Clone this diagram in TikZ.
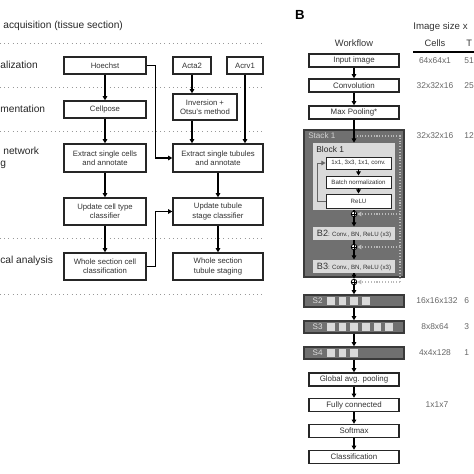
\documentclass[tikz,border=0pt]{standalone}
\usepackage{fontspec}
\setmainfont{Liberation Sans}
\usetikzlibrary{arrows.meta,positioning}

\newlength\pxu
\setlength\pxu{0.02cm}
\definecolor{stackgray}{RGB}{112,112,112}
\definecolor{stackedge}{RGB}{58,58,58}
\definecolor{blockgray}{RGB}{218,218,218}
\definecolor{txtgray}{RGB}{50,50,50}

\tikzset{
  box/.style={draw=black!85, line width=0.8pt, fill=white, align=center, inner sep=0pt,
    text=txtgray, font=\fontsize{4.4}{5.3}\selectfont},
  wbox/.style={box, minimum width=90\pxu, minimum height=13\pxu, font=\fontsize{4.5}{5}\selectfont},
  ibox/.style={box, line width=0.5pt, minimum width=65\pxu, font=\fontsize{3.5}{4}\selectfont},
  sbar/.style={draw=stackedge, line width=0.8pt, fill=stackgray, minimum width=100\pxu,
    minimum height=12\pxu, inner sep=0pt},
  sq/.style={fill=blockgray, draw=none},
  plusnode/.style={circle, draw=black, fill=white, line width=0.5pt, inner sep=0pt,
    minimum size=5.5\pxu, path picture={
      \draw[line width=0.45pt] ([xshift=-1.6pt]path picture bounding box.center) -- ([xshift=1.6pt]path picture bounding box.center);
      \draw[line width=0.45pt] ([yshift=-1.6pt]path picture bounding box.center) -- ([yshift=1.6pt]path picture bounding box.center);}},
  sep/.style={dotted, gray!80, line width=0.4pt},
  skipline/.style={densely dotted, gray!55, line width=0.6pt},
  lbl/.style={anchor=west, inner sep=0pt, align=left, text=black!85, font=\fontsize{5.8}{6.6}\selectfont},
  val/.style={inner sep=0pt, text=black!60, font=\fontsize{4.8}{5.5}\selectfont}
}

\begin{document}
\begin{tikzpicture}[x=1\pxu, y=-1\pxu, >={Triangle[length=2.4pt,width=2.6pt]}]
\useasboundingbox (0,0) rectangle (474,474);

% panel A: labels and separators
\node[lbl] (lacq) at (3,26) {acquisition (tissue section)};
\node[lbl] (lvis) at (0,65) {alization};
\node[lbl] (lseg) at (0,109) {mentation};
\node[lbl] (lnet) at (0,158) {\hspace*{3\pxu}network\\g};
\node[lbl] (lana) at (0,261) {cal analysis};
\foreach \y in {43,87,131,238,294}
  \draw[sep] (0,\y) -- (265,\y);

% panel A: boxes
\node[box, minimum width=82\pxu, minimum height=17\pxu] (hoechst) at (105,65.5) {Hoechst};
\node[box, minimum width=38\pxu, minimum height=17\pxu] (acta) at (192,65.5) {Acta2};
\node[box, minimum width=36\pxu, minimum height=17\pxu] (acrv) at (245,65.5) {Acrv1};
\node[box, minimum width=82\pxu, minimum height=17\pxu] (cellpose) at (105,109.5) {Cellpose};
\node[box, minimum width=64\pxu, minimum height=26\pxu] (otsu) at (205,107) {Inversion +\\Otsu's method};
\node[box, minimum width=82\pxu, minimum height=28\pxu] (cells) at (105,158) {Extract single cells\\and annotate};
\node[box, minimum width=90\pxu, minimum height=28\pxu] (tubules) at (218,158) {Extract single tubules\\and annotate};
\node[box, minimum width=82\pxu, minimum height=27\pxu] (updcell) at (105,211.5) {Update cell type\\classifier};
\node[box, minimum width=90\pxu, minimum height=27\pxu] (updtub) at (218,211.5) {Update tubule\\stage classifier};
\node[box, minimum width=82\pxu, minimum height=27\pxu] (wholecell) at (105,266.5) {Whole section cell\\classification};
\node[box, minimum width=90\pxu, minimum height=27\pxu] (wholetub) at (218,266.5) {Whole section\\tubule staging};

\draw[->, line width=0.7pt] (hoechst) -- (cellpose);
\draw[->, line width=0.7pt] (cellpose) -- (cells);
\draw[->, line width=0.7pt] (acta) -- (acta |- otsu.north);
\draw[->, line width=0.7pt] (otsu.south -| acta) -- (tubules.north -| acta);
\draw[->, line width=0.7pt] (acrv) -- (acrv |- tubules.north);
\draw[->, line width=0.7pt] (hoechst.east) -- ++(9,0) |- (tubules.west);
\draw[->, line width=0.7pt] (cells) -- (updcell);
\draw[->, line width=0.7pt] (tubules) -- (updtub);
\draw[->, line width=0.7pt] (updcell) -- (wholecell);
\draw[->, line width=0.7pt] (updtub) -- (wholetub);
\draw[->, line width=0.7pt] (wholecell.east) -- ++(9,0) |- (updtub.west);

% panel B: headers
\node[inner sep=0pt, font=\fontsize{7.5}{8}\selectfont\bfseries] (bname) at (300,15) {B};
\node[inner sep=0pt, text=black!80, font=\fontsize{5.3}{6}\selectfont] (wflow) at (354,43) {Workflow};
\node[inner sep=0pt, anchor=west, text=black!80, font=\fontsize{5.5}{6}\selectfont] (isize) at (413,27) {Image size x};
\node[inner sep=0pt, text=black!80, font=\fontsize{5.3}{6}\selectfont] (hcells) at (435,43) {Cells};
\node[inner sep=0pt, anchor=west, text=black!80, font=\fontsize{5.3}{6}\selectfont] (htub) at (466,43) {T};
\draw[line width=0.6pt] (413,52) coordinate (hl) -- (474,52) coordinate (hr);

% panel B: workflow
\node[wbox] (input) at (354,60.5) {Input image};
\node[wbox] (conv) at (354,85.5) {Convolution};
\node[wbox] (maxpool) at (354,112.5) {Max Pooling*};

\node[draw=stackedge, line width=0.9pt, fill=stackgray, minimum width=100\pxu, minimum height=147\pxu, inner sep=0pt] (stack) at (354,203.5) {};
\node[anchor=north west, inner sep=0pt, text=gray!35, font=\fontsize{4.6}{5}\selectfont] (stacklbl) at (308,132) {Stack 1};
\node[fill=blockgray, minimum width=82\pxu, minimum height=67\pxu, inner sep=0pt] (block1) at (354,176.5) {};
\node[anchor=north west, inner sep=0pt, text=black!85, font=\fontsize{4.8}{5}\selectfont] (blocklbl) at (316,146) {Block 1};
\node[ibox, minimum height=12\pxu] (conv1) at (358.5,163) {1x1, 3x3, 1x1, conv.};
\node[ibox, minimum height=12\pxu] (bn) at (358.5,182) {Batch normalization};
\node[ibox, minimum height=14\pxu] (relu) at (358.5,201) {ReLU};

\node[plusnode] (plus1) at (354,214) {};
\node[box, line width=0.5pt, fill=blockgray, draw=none, minimum width=82\pxu, minimum height=13\pxu, font=\fontsize{3.5}{4}\selectfont] (b2) at (354,233.5) {{\fontsize{5.2}{5}\selectfont B2}: Conv., BN, ReLU (x3)};
\node[plusnode] (plus2) at (354,247) {};
\node[box, line width=0.5pt, fill=blockgray, draw=none, minimum width=82\pxu, minimum height=13\pxu, font=\fontsize{3.5}{4}\selectfont] (b3) at (354,266.5) {{\fontsize{5.2}{5}\selectfont B3}: Conv., BN, ReLU (x3)};
\node[plusnode] (plus3) at (354,282) {};

% skip connections
\coordinate (r0) at (400,136);
\draw[skipline] (maxpool.south |- r0) -- (r0) -- (r0 |- plus3);
\foreach \p in {plus1,plus2,plus3}
  \draw[skipline, ->] (r0 |- \p) -- (\p);

\draw[->, line width=0.7pt] (input) -- (conv);
\draw[->, line width=0.7pt] (conv) -- (maxpool);
\draw[->, line width=0.7pt] (maxpool) -- (block1);
\draw[->, line width=0.6pt] (conv1) -- (bn);
\draw[->, line width=0.6pt] (bn) -- (relu);
\draw[->, line width=0.5pt, draw=black!60] (relu.west) -- ++(-8,0) |- (conv1.west);
\draw[->, line width=0.7pt] (block1.south -| plus1) -- (plus1) -- (b2);
\draw[->, line width=0.7pt] (b2) -- (plus2) -- (b3);
\draw[->, line width=0.7pt] (b3) -- (plus3);

% stages 2 to 4
\node[sbar] (s2) at (354,301) {};
\node[sbar] (s3) at (354,327) {};
\node[sbar] (s4) at (354,353) {};
\foreach \s/\n in {s2/3, s3/5, s4/2} {
  \node[anchor=west, inner sep=0pt, text=gray!25, font=\fontsize{4.6}{5}\selectfont] at ([xshift=9\pxu]\s.west) {\MakeUppercase{\s}};
  \foreach \i in {0,...,\n}
    \fill[sq] ([xshift=24\pxu+\i*11.6\pxu, yshift=4\pxu]\s.west) rectangle ++(7.5,8);
}
\draw[->, line width=0.7pt] (plus3) -- (s2);

\node[wbox] (gap) at (354,379.5) {Global avg. pooling};
\node[wbox] (fc) at (354,405) {Fully connected};
\node[wbox] (softmax) at (354,431) {Softmax};
\node[wbox] (classif) at (354,457) {Classification};

\draw[->, line width=0.7pt] (s2) -- (s3);
\draw[->, line width=0.7pt] (s3) -- (s4);
\draw[->, line width=0.7pt] (s4) -- (gap);
\draw[->, line width=0.7pt] (gap) -- (fc);
\draw[->, line width=0.7pt] (fc) -- (softmax);
\draw[->, line width=0.7pt] (softmax) -- (classif);

% image sizes
\node[val] (v1) at (435,61) {64x64x1};
\node[val] (v2) at (435,86) {32x32x16};
\node[val] (v3) at (435,136) {32x32x16};
\node[val] (v4) at (437,301) {16x16x132};
\node[val] (v5) at (435,327) {8x8x64};
\node[val] (v6) at (435,353) {4x4x128};
\node[val] (v7) at (437,405) {1x1x7};
\foreach \t/\y in {51/61, 25/86, 12/136, 6/301, 3/327, 1/353}
  \node[val, anchor=west] at (464,\y) {\t};
\end{tikzpicture}
\end{document}
